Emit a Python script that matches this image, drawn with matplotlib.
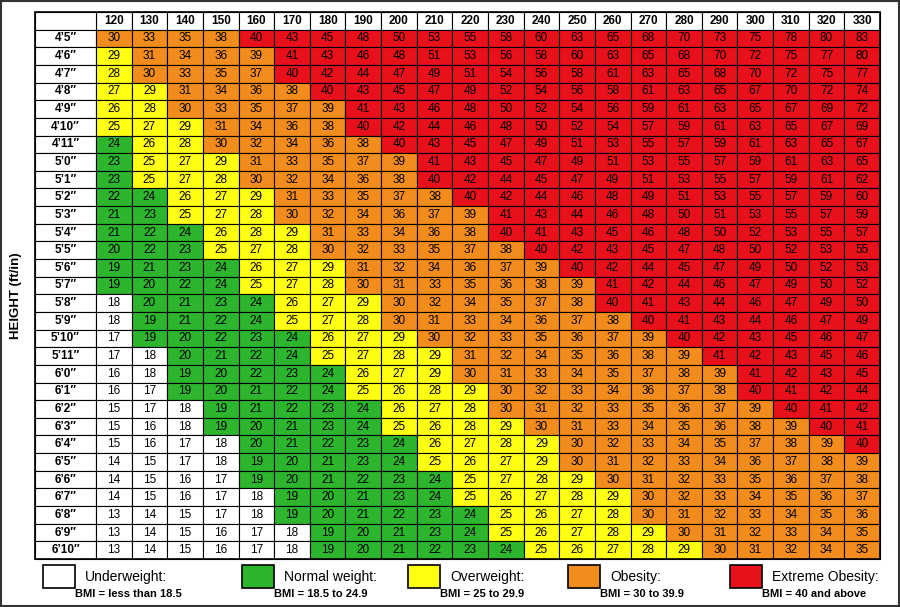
import matplotlib.pyplot as plt
from matplotlib.patches import Rectangle

weights = [120, 130, 140, 150, 160, 170, 180, 190, 200, 210, 220, 230, 240, 250, 260, 270, 280, 290, 300, 310, 320, 330]
heights = ["4\u20195\u2033", "4\u20196\u2033", "4\u20197\u2033", "4\u20198\u2033", "4\u20199\u2033", "4\u201910\u2033", "4\u201911\u2033",
           "5\u20190\u2033", "5\u20191\u2033", "5\u20192\u2033", "5\u20193\u2033", "5\u20194\u2033", "5\u20195\u2033", "5\u20196\u2033",
           "5\u20197\u2033", "5\u20198\u2033", "5\u20199\u2033", "5\u201910\u2033", "5\u201911\u2033", "6\u20190\u2033", "6\u20191\u2033",
           "6\u20192\u2033", "6\u20193\u2033", "6\u20194\u2033", "6\u20195\u2033", "6\u20196\u2033", "6\u20197\u2033", "6\u20198\u2033",
           "6\u20199\u2033", "6\u201910\u2033"]
bmi = [
    [30, 33, 35, 38, 40, 43, 45, 48, 50, 53, 55, 58, 60, 63, 65, 68, 70, 73, 75, 78, 80, 83],
    [29, 31, 34, 36, 39, 41, 43, 46, 48, 51, 53, 56, 58, 60, 63, 65, 68, 70, 72, 75, 77, 80],
    [28, 30, 33, 35, 37, 40, 42, 44, 47, 49, 51, 54, 56, 58, 61, 63, 65, 68, 70, 72, 75, 77],
    [27, 29, 31, 34, 36, 38, 40, 43, 45, 47, 49, 52, 54, 56, 58, 61, 63, 65, 67, 70, 72, 74],
    [26, 28, 30, 33, 35, 37, 39, 41, 43, 46, 48, 50, 52, 54, 56, 59, 61, 63, 65, 67, 69, 72],
    [25, 27, 29, 31, 34, 36, 38, 40, 42, 44, 46, 48, 50, 52, 54, 57, 59, 61, 63, 65, 67, 69],
    [24, 26, 28, 30, 32, 34, 36, 38, 40, 43, 45, 47, 49, 51, 53, 55, 57, 59, 61, 63, 65, 67],
    [23, 25, 27, 29, 31, 33, 35, 37, 39, 41, 43, 45, 47, 49, 51, 53, 55, 57, 59, 61, 63, 65],
    [23, 25, 27, 28, 30, 32, 34, 36, 38, 40, 42, 44, 45, 47, 49, 51, 53, 55, 57, 59, 61, 62],
    [22, 24, 26, 27, 29, 31, 33, 35, 37, 38, 40, 42, 44, 46, 48, 49, 51, 53, 55, 57, 59, 60],
    [21, 23, 25, 27, 28, 30, 32, 34, 36, 37, 39, 41, 43, 44, 46, 48, 50, 51, 53, 55, 57, 59],
    [21, 22, 24, 26, 28, 29, 31, 33, 34, 36, 38, 40, 41, 43, 45, 46, 48, 50, 52, 53, 55, 57],
    [20, 22, 23, 25, 27, 28, 30, 32, 33, 35, 37, 38, 40, 42, 43, 45, 47, 48, 50, 52, 53, 55],
    [19, 21, 23, 24, 26, 27, 29, 31, 32, 34, 36, 37, 39, 40, 42, 44, 45, 47, 49, 50, 52, 53],
    [19, 20, 22, 24, 25, 27, 28, 30, 31, 33, 35, 36, 38, 39, 41, 42, 44, 46, 47, 49, 50, 52],
    [18, 20, 21, 23, 24, 26, 27, 29, 30, 32, 34, 35, 37, 38, 40, 41, 43, 44, 46, 47, 49, 50],
    [18, 19, 21, 22, 24, 25, 27, 28, 30, 31, 33, 34, 36, 37, 38, 40, 41, 43, 44, 46, 47, 49],
    [17, 19, 20, 22, 23, 24, 26, 27, 29, 30, 32, 33, 35, 36, 37, 39, 40, 42, 43, 45, 46, 47],
    [17, 18, 20, 21, 22, 24, 25, 27, 28, 29, 31, 32, 34, 35, 36, 38, 39, 41, 42, 43, 45, 46],
    [16, 18, 19, 20, 22, 23, 24, 26, 27, 29, 30, 31, 33, 34, 35, 37, 38, 39, 41, 42, 43, 45],
    [16, 17, 19, 20, 21, 22, 24, 25, 26, 28, 29, 30, 32, 33, 34, 36, 37, 38, 40, 41, 42, 44],
    [15, 17, 18, 19, 21, 22, 23, 24, 26, 27, 28, 30, 31, 32, 33, 35, 36, 37, 39, 40, 41, 42],
    [15, 16, 18, 19, 20, 21, 23, 24, 25, 26, 28, 29, 30, 31, 33, 34, 35, 36, 38, 39, 40, 41],
    [15, 16, 17, 18, 20, 21, 22, 23, 24, 26, 27, 28, 29, 30, 32, 33, 34, 35, 37, 38, 39, 40],
    [14, 15, 17, 18, 19, 20, 21, 23, 24, 25, 26, 27, 29, 30, 31, 32, 33, 34, 36, 37, 38, 39],
    [14, 15, 16, 17, 19, 20, 21, 22, 23, 24, 25, 27, 28, 29, 30, 31, 32, 33, 35, 36, 37, 38],
    [14, 15, 16, 17, 18, 19, 20, 21, 23, 24, 25, 26, 27, 28, 29, 30, 32, 33, 34, 35, 36, 37],
    [13, 14, 15, 17, 18, 19, 20, 21, 22, 23, 24, 25, 26, 27, 28, 30, 31, 32, 33, 34, 35, 36],
    [13, 14, 15, 16, 17, 18, 19, 20, 21, 23, 24, 25, 26, 27, 28, 29, 30, 31, 32, 33, 34, 35],
    [13, 14, 15, 16, 17, 18, 19, 20, 21, 22, 23, 24, 25, 26, 27, 28, 29, 30, 31, 32, 34, 35],
]
cat_names = ["Underweight:", "Normal weight:", "Overweight:", "Obesity:", "Extreme Obesity:"]
cat_ranges = ["BMI = less than 18.5", "BMI = 18.5 to 24.9", "BMI = 25 to 29.9", "BMI = 30 to 39.9", "BMI = 40 and above"]
cat_colors = ["#ffffff", "#2eb52e", "#ffff14", "#f28c1c", "#e8101a"]


def color_of(v):
    if v <= 18:
        return cat_colors[0]
    if v <= 24:
        return cat_colors[1]
    if v <= 29:
        return cat_colors[2]
    if v <= 39:
        return cat_colors[3]
    return cat_colors[4]


plt.rcParams['font.family'] = ['Liberation Sans', 'DejaVu Sans']
fig = plt.figure(figsize=(9, 6.07), dpi=100)
ax = fig.add_axes([0, 0, 1, 1])
ax.set_xlim(0, 900)
ax.set_ylim(607, 0)
ax.axis('off')

x0, x1 = 35, 880
y0, y1 = 12, 559
lab_w = 61
cw = (x1 - x0 - lab_w) / len(weights)
rh = (y1 - y0) / (len(heights) + 1)

# header row
for j, w in enumerate(weights):
    x = x0 + lab_w + j * cw
    ax.add_patch(Rectangle((x, y0), cw, rh, fc='white', ec='black', lw=0.8))
    ax.text(x + cw / 2, y0 + rh / 2, str(w), ha='center', va='center', fontsize=8.5, fontweight='bold')
ax.add_patch(Rectangle((x0, y0), lab_w, rh, fc='white', ec='black', lw=0.8))

for i, h in enumerate(heights):
    y = y0 + (i + 1) * rh
    ax.add_patch(Rectangle((x0, y), lab_w, rh, fc='white', ec='black', lw=0.8))
    ax.text(x0 + lab_w / 2, y + rh / 2, h, ha='center', va='center', fontsize=8.5, fontweight='bold')
    for j, v in enumerate(bmi[i]):
        x = x0 + lab_w + j * cw
        ax.add_patch(Rectangle((x, y), cw, rh, fc=color_of(v), ec='black', lw=0.8))
        ax.text(x + cw / 2, y + rh / 2, str(v), ha='center', va='center', fontsize=8.5)

ax.add_patch(Rectangle((x0, y0), x1 - x0, y1 - y0, fill=False, ec='black', lw=1.2))
ax.text(16, (y0 + y1) / 2 + 10, "HEIGHT (ft/in)", rotation=90, ha='center', va='center',
        fontsize=9.5, fontweight='bold')

# legend
leg_x = [43, 242, 408, 568, 730]
for k in range(5):
    ax.add_patch(Rectangle((leg_x[k], 565), 32, 23, fc=cat_colors[k], ec='black', lw=1.2))
    ax.text(leg_x[k] + 42, 577, cat_names[k], ha='left', va='center', fontsize=10)
    ax.text(leg_x[k] + 32, 594, cat_ranges[k], ha='left', va='center', fontsize=8, fontweight='bold')

ax.add_patch(Rectangle((1, 1), 898, 605, fill=False, ec='#333333', lw=1.5))
fig.savefig('out.png', dpi=100)
